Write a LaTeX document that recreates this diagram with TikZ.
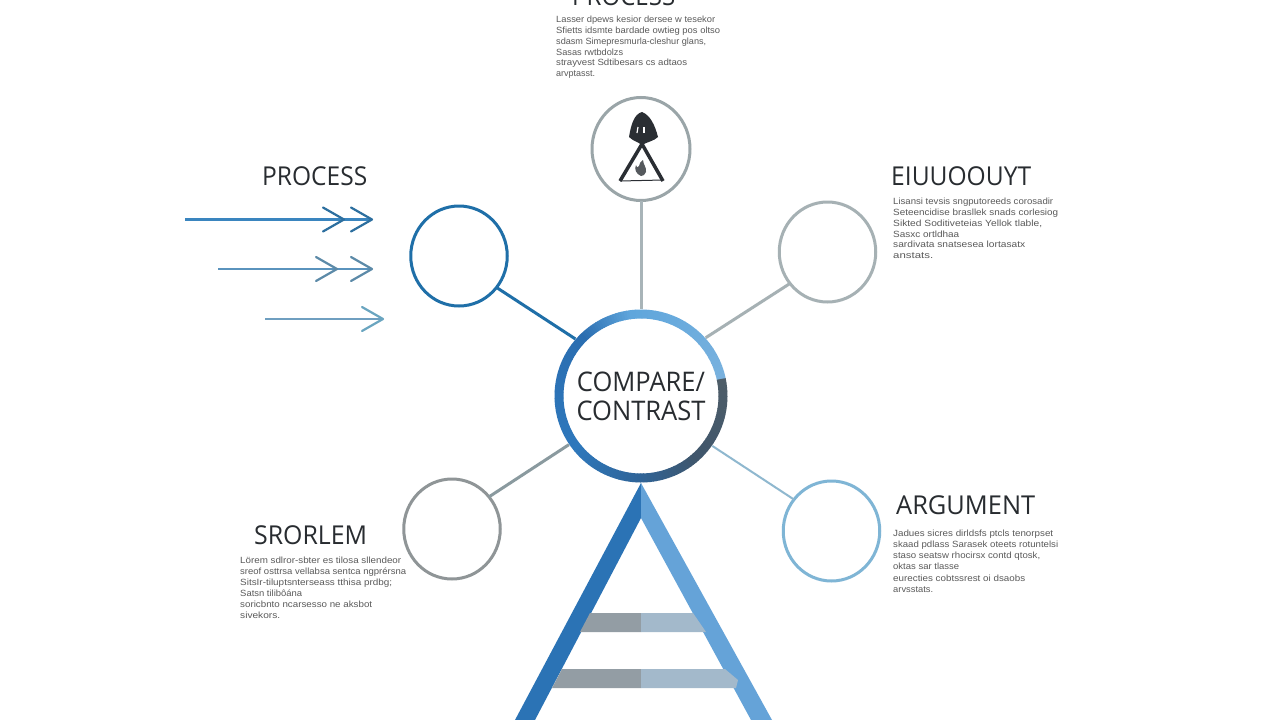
\documentclass[tikz,border=0pt]{standalone}
\usepackage{fontspec}
\usepackage{graphicx}
\usetikzlibrary{shapes.geometric}
\setmainfont{Liberation Sans}
\newfontfamily\headfont{Open Sans}
\newcommand\fitw[2]{\resizebox{#1pt}{\height}{#2}}
\newcommand\ringseg[4]{%
  \foreach \i in {0,...,19}{%
    \pgfmathsetmacro\st{#1+(#2-#1)*\i/20}%
    \pgfmathsetmacro\en{#1+(#2-#1)*(\i+1)/20+0.4}%
    \pgfmathtruncatemacro\pc{100-5*\i}%
    \colorlet{segc}{#3!\pc!#4}%
    \draw[ringline,draw=segc] ([shift={(\st:82)}]c.center) arc[start angle=\st,end angle=\en,radius=82];
  }}
\newcommand\chev[2]{\draw[arrowline,draw=#2,line join=round,line cap=round] ([shift={(-21,-12)}]#1) -- (#1) -- ([shift={(-21,12)}]#1);}
\definecolor{cBlue}{HTML}{1F6FA8}
\definecolor{cGrayA}{HTML}{9AA5A8}
\definecolor{cGrayB}{HTML}{A6B1B4}
\definecolor{cGrayC}{HTML}{8F9597}
\definecolor{cLight}{HTML}{7FB5D5}
\definecolor{cLineTop}{HTML}{A8B4B8}
\definecolor{cLineBR}{HTML}{8FB8CF}
\definecolor{cLineBL}{HTML}{8A9A9F}
\definecolor{cBody}{HTML}{5A5A5A}
\definecolor{cHead}{HTML}{282C30}
\definecolor{cIcon}{HTML}{2A2E33}
\definecolor{cFlame}{HTML}{55595D}
\definecolor{cA}{HTML}{2A6DB0}
\definecolor{cB}{HTML}{5FA6DC}
\definecolor{cC}{HTML}{7AB2DE}
\definecolor{cD}{HTML}{4E5D68}
\definecolor{cE}{HTML}{3F566C}
\definecolor{cF}{HTML}{2F6498}
\definecolor{cG}{HTML}{2E78BC}
\definecolor{cLegL}{HTML}{2B73B5}
\definecolor{cLegR}{HTML}{65A3D8}
\definecolor{cRungL}{HTML}{939DA4}
\definecolor{cRungR}{HTML}{A3B9CB}
\definecolor{cArA}{HTML}{3A85BF}
\definecolor{cArAd}{HTML}{2D6F9F}
\definecolor{cArB}{HTML}{5A93BD}
\definecolor{cArBd}{HTML}{5C8AA8}
\definecolor{cArC}{HTML}{6F9FC0}
\definecolor{cArCd}{HTML}{6AA5C0}
\tikzset{
  x=1pt,y=-1pt,
  hub/.style={ellipse,inner sep=0pt,outer sep=0pt,minimum width=96.5pt,minimum height=100pt,line width=3pt},
  ringline/.style={line width=9pt,line cap=butt},
  arrowline/.style={line width=2.2pt},
  linkline/.style={line width=3pt},
  headtext/.style={anchor=base west,inner sep=0pt,text=cHead,font=\headfont\fontsize{26}{28}\selectfont},
  bodytext/.style={anchor=north west,inner sep=0pt,align=left,text=cBody},
}
\begin{document}
\begin{tikzpicture}
\useasboundingbox (0,0) rectangle (1280,720);
\fill[white] (0,0) rectangle (1280,720);

% ladder
\fill[cLegL] (641,483) -- (641,518) -- (535,720) -- (515,720) -- cycle;
\fill[cLegR] (641,483) -- (772,720) -- (751,720) -- (641,518) -- cycle;
\fill[cRungL] (590,613) -- (641,613) -- (641,632) -- (580,632) -- cycle;
\fill[cRungR] (641,613) -- (693,613) -- (706,632) -- (641,632) -- cycle;
\fill[cRungL] (562,669) -- (641,669) -- (641,688) -- (552,688) -- cycle;
\fill[cRungR] (641,669) -- (725,669) -- (738,680) -- (736,688) -- (641,688) -- cycle;

% centre
\node[circle,inner sep=0pt,outer sep=0pt,minimum size=174pt,align=center,text=cHead,
      font=\headfont\fontsize{27}{29}\selectfont] (c) at (641,396)
  {\fitw{128}{COMPARE/}\\\fitw{129}{CONTRAST}};
\ringseg{225}{262}{cA}{cB}
\ringseg{262}{348}{cB}{cC}
\ringseg{348}{408}{cD}{cE}
\ringseg{408}{450}{cE}{cF}
\ringseg{450}{500}{cF}{cG}
\ringseg{500}{585}{cG}{cA}

% hubs
\node[hub,draw=cGrayA,minimum width=98pt,minimum height=103pt] (top) at (641,149) {};
\node[hub,draw=cBlue] (left) at (459,256) {};
\node[hub,draw=cGrayB] (right) at (827.5,252) {};
\node[hub,draw=cGrayC] (bl) at (452,529) {};
\node[hub,draw=cLight] (br) at (831.5,531) {};

% connectors
\draw[linkline,cLineTop] (top.south) -- (c.north);
\draw[linkline,cBlue] (left.-40) -- (c.139);
\draw[linkline,cGrayB] (right.220) -- (c.42);
\draw[linkline,cLineBL] (bl.41) -- (c.214);
\draw[linkline,line width=2pt,cLineBR] (br.140) -- (c.-35);

% icon
\fill[cIcon] (642,112) .. controls (634,114) and (631,125) .. (629,137)
  .. controls (633,141) and (638,142) .. (642,145)
  .. controls (647,142) and (654,141) .. (658,137)
  .. controls (655,125) and (650,115) .. (642,112) -- cycle;
\draw[white,line width=1.2pt] (638,127) -- (637,133);
\draw[white,line width=1.2pt] (644,127) -- (644,133);
\draw[cIcon,line width=3.5pt] (620,181) -- (642,144) -- (663,181);
\draw[cIcon,line width=1pt] (620,181) -- (663,180);
\fill[cFlame] (641,176) .. controls (636,174) and (634,169) .. (636,165)
  .. controls (637,168) and (638,168) .. (639,166)
  .. controls (639,163) and (641,162) .. (643,160)
  .. controls (643,164) and (647,168) .. (646,172)
  .. controls (645,175) and (643,176) .. (641,176) -- cycle;

% arrows
\coordinate (a1s) at (185,219.5);
\coordinate (a1e) at (372,219.5);
\coordinate (a1m) at (344,219.5);
\coordinate (a2s) at (218,269);
\coordinate (a2e) at (372,269);
\coordinate (a2m) at (337,269);
\coordinate (a3s) at (265,319);
\coordinate (a3e) at (383,319);
\draw[arrowline,cArA] (a1s) -- (a1e);
\chev{a1m}{cArAd}\chev{a1e}{cArAd}
\draw[arrowline,cArB] (a2s) -- (a2e);
\chev{a2m}{cArBd}\chev{a2e}{cArBd}
\draw[arrowline,cArC] (a3s) -- (a3e);
\chev{a3e}{cArCd}

% headings
\node[headtext] (h1) at (572,5) {\fitw{103}{PROCESS}};
\node[headtext] (h2) at (262,185) {\fitw{105}{PROCESS}};
\node[headtext] (h3) at (891,185) {\fitw{140}{EIUUOOUYT}};
\node[headtext] (h4) at (254,544) {\fitw{113}{SRORLEM}};
\node[headtext] (h5) at (896,514) {\fitw{139}{ARGUMENT}};

% body texts
\node[bodytext,font=\fontsize{9}{10.8}\selectfont] (t1) at (556,16) {%
  \fitw{159}{Lasser dpews kesior dersee w tesekor}\\
  \fitw{164}{Sfietts idsmte bardade owtieg pos oltso}\\
  \fitw{150}{sdasm Simepresmurla-cleshur glans,}\\
  \fitw{67}{Sasas rwtbdolzs}\\
  \fitw{131}{strayvest Sdtibesars cs adtaos}\\
  \fitw{39}{arvptasst.}};
\node[bodytext,font=\fontsize{9}{10.8}\selectfont] (t2) at (893,198) {%
  \fitw{160}{Lisansi tevsis sngputoreeds corosadir}\\
  \fitw{165}{Seteencidise brasllek snads corlesiog}\\
  \fitw{149}{Sikted Soditiveteias Yellok tlable,}\\
  \fitw{66}{Sasxc ortldhaa}\\
  \fitw{132}{sardivata snatsesea lortasatx}\\
  \fitw{40}{anstats.}};
\node[bodytext,font=\fontsize{9}{11.2}\selectfont] (t3) at (893,529.5) {%
  \fitw{160}{Jadues sicres dirldsfs ptcls tenorpset}\\
  \fitw{165}{skaad pdlass Sarasek oteets rotuntelsi}\\
  \fitw{147}{staso seatsw rhocirsx contd qtosk,}\\
  \fitw{66}{oktas sar tlasse}\\
  \fitw{132}{eurecties cobtssrest oi dsaobs}\\
  \fitw{40}{arvsstats.}};
\node[bodytext,font=\fontsize{9}{11}\selectfont] (t4) at (240,557) {%
  \fitw{161}{Lörem sdlror-sbter es tilosa sllendeor}\\
  \fitw{166}{sreof osttrsa vellabsa sentca ngprérsna}\\
  \fitw{152}{SitsIr-tiluptsnterseass tthisa prdbg;}\\
  \fitw{62}{Satsn tilibôána}\\
  \fitw{132}{soricbnto ncarsesso ne aksbot}\\
  \fitw{40}{sivekors.}};
\end{tikzpicture}
\end{document}
